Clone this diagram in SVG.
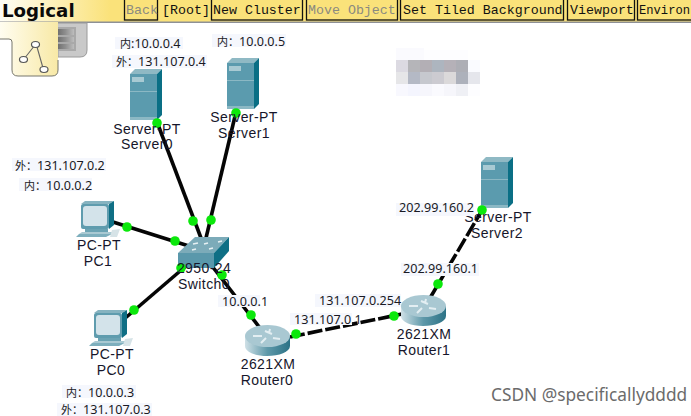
<svg xmlns="http://www.w3.org/2000/svg" xmlns:xlink="http://www.w3.org/1999/xlink" width="691" height="416" viewBox="0 0 691 416">
<style>
.btn{fill:none;stroke:#111;stroke-width:1.3}
.bt{font:13.3px "Liberation Mono",monospace;fill:#111}
.off{fill:#8a8a80}
.lk{fill:none;stroke:#050505;stroke-width:3.6}
.dash{stroke-dasharray:15 3}
.dot{fill:#0be80b}
.nl{font:14px "Liberation Sans",Arial,sans-serif;letter-spacing:.4px;fill:#16162a;text-anchor:middle}
.ip{font:12.6px "Noto Sans","Noto Sans CJK SC",sans-serif;fill:#1a1a24}
.cjk{font-size:11px}
.bg{fill:#f5f7fd}
</style>
<defs>
<linearGradient id="tb" x1="0" x2="1" y1="0" y2="0"><stop offset="0" stop-color="#fffef6"/><stop offset="1" stop-color="#fae27a"/></linearGradient>
<linearGradient id="tab" x1="0" x2="1" y1="0" y2="0"><stop offset="0" stop-color="#fffdf0"/><stop offset="1" stop-color="#f8e9a6"/></linearGradient>
<linearGradient id="stripe" x1="0" x2="1" y1="0" y2="0"><stop offset="0" stop-color="#6c6c6c"/><stop offset=".5" stop-color="#8f8f8f"/><stop offset="1" stop-color="#bdbdbd"/></linearGradient>
<linearGradient id="rt" x1="0" x2="1" y1="0" y2="0"><stop offset="0" stop-color="#cfe0e6"/><stop offset=".5" stop-color="#5e98a9"/><stop offset="1" stop-color="#2b7286"/></linearGradient>
<g id="server">
<path d="M0 5 5 0H32L27 5Z" fill="#8fb9c4"/>
<path d="M27 5 32 0V46L27 51Z" fill="#0a6f85"/>
<rect x="0" y="5" width="27" height="46" fill="#5b9bae"/>
<rect x="0" y="22" width="27" height="1" fill="#8bb8c4"/>
<rect x="0" y="48" width="27" height="3" fill="#8bb8c4"/>
<rect x="2" y="8" width="12" height="5" fill="#a8cad3"/>
</g>
<g id="pc">
<path d="M5 3 9 0H38L33 3Z" fill="#86b3c0"/>
<path d="M33 3 38 0V24L33 28Z" fill="#0f6f85"/>
<rect x="5" y="3" width="28" height="25" rx="2" fill="#5f9cae"/>
<rect x="7" y="5" width="24" height="20" rx="3" fill="#d3e3ea"/>
<rect x="9" y="28" width="23" height="3" fill="#6ba3b3"/>
<path d="M6 31H36L36 33H3Z" fill="#a9c9d2"/>
<path d="M3 33H36L30 36H0Z" fill="#7eafbd"/>
<path d="M36 29 44 28 41 36 34 36Z" fill="#d6e3e7"/>
</g>
<g id="router">
<path d="M0 11V21C0 27 10 31 22 31S45 27 45 21V11Z" fill="url(#rt)"/>
<ellipse cx="22.500" cy="11" rx="22.500" ry="11" fill="#a9c8d2"/>
<path d="M8 11H17M20 6 27 9M28 13 35 14M21 13 16 18M25 4 24 8" stroke="#e3eef2" stroke-width="2" fill="none"/>
</g>
<g id="switch">
<path d="M0 16 17 0H51L36 16Z" fill="#7cabb9"/>
<path d="M0 16H36V31H0Z" fill="#5a98ab"/>
<path d="M36 16 51 0V14L36 31Z" fill="#0f6f85"/>
<path d="M15 7 20 6M26 7 30 6M40 5 44 4M14 13 18 12M31 12 35 11" stroke="#e6f0f3" stroke-width="1.500" fill="none"/>
</g>
</defs>

<rect width="691" height="416" fill="#fff"/>

<g id="toolbar">
<rect width="691" height="22" fill="#fae27a"/>
<rect width="110" height="22" fill="url(#tb)"/>
<rect y="21.500" width="691" height="1.500" fill="#8d9096"/>
<rect class="btn" x="124.500" y="-1" width="33" height="21"/><text class="bt off" x="126" y="14">Back</text>
<text class="bt" x="162" y="14">[Root]</text>
<rect class="btn" x="211.500" y="-1" width="91" height="21"/><text class="bt" x="213" y="14">New Cluster</text>
<rect class="btn" x="306.500" y="-1" width="91" height="21"/><text class="bt off" x="308" y="14">Move Object</text>
<rect class="btn" x="400.500" y="-1" width="163" height="21"/><text class="bt" x="403" y="14">Set Tiled Background</text>
<rect class="btn" x="567.500" y="-1" width="67" height="21"/><text class="bt" x="570" y="14">Viewport</text>
<rect class="btn" x="637.500" y="-1" width="60" height="21"/><text class="bt" x="639" y="14" textLength="51" lengthAdjust="spacingAndGlyphs">Environ</text>
</g>

<g id="logical-tab">
<path d="M42 23H87V50Q87 57 80 57H58V32H42Z" fill="#c9c9c9" stroke="#9a9a9a"/>
<rect x="55" y="27" width="21" height="24" fill="#a9a9a9"/>
<rect x="57" y="29" width="17" height="6" fill="url(#stripe)"/>
<rect x="57" y="37" width="17" height="5" fill="url(#stripe)"/>
<rect x="57" y="44" width="17" height="5" fill="url(#stripe)"/>
<path d="M0 22H58V70Q58 76 52 76H18Q12 76 12 70V42Q12 39 9 39H0Z" fill="url(#tab)"/>
<path d="M0 39H9Q12 39 12 42V70Q12 76 18 76H52Q58 76 58 70V60" fill="none" stroke="#77776c"/>
<path d="M35 45 24 59M37 47 43 68" stroke="#666" stroke-width="1.100"/>
<g fill="#fff" stroke="#555" stroke-width="1.200"><ellipse cx="35.500" cy="44.500" rx="4" ry="3"/><ellipse cx="23.500" cy="59.500" rx="4" ry="3"/><ellipse cx="44" cy="69.500" rx="4" ry="3"/></g>
<text x="2" y="17" font-family="DejaVu Sans, sans-serif" font-weight="700" font-size="18.200px" fill="#0a0a0a">Logical</text>
</g>

<g id="mosaic">
<rect x="396" y="48" width="28" height="12" fill="#fafafe"/><rect x="424" y="50" width="44" height="10" fill="#fdfdff"/>
<rect x="396" y="60" width="12" height="12" fill="#dcdae2"/><rect x="408" y="60" width="12" height="12" fill="#b5b5b9"/><rect x="420" y="60" width="12" height="12" fill="#b3afb5"/><rect x="432" y="60" width="12" height="12" fill="#adb5bf"/><rect x="444" y="60" width="12" height="12" fill="#b5b1b8"/><rect x="456" y="60" width="12" height="12" fill="#adaeb5"/><rect x="468" y="60" width="12" height="12" fill="#fafbff"/>
<rect x="396" y="72" width="12" height="12" fill="#e6e6e8"/><rect x="408" y="72" width="12" height="12" fill="#b4b9c5"/><rect x="420" y="72" width="12" height="12" fill="#c6c8ce"/><rect x="432" y="72" width="12" height="12" fill="#cccbd1"/><rect x="444" y="72" width="12" height="12" fill="#dbd9da"/><rect x="456" y="72" width="12" height="12" fill="#adb1bb"/><rect x="468" y="72" width="12" height="12" fill="#e5e6ec"/>
<rect x="396" y="84" width="12" height="12" fill="#f8f8fe"/><rect x="408" y="84" width="12" height="12" fill="#f4f5fe"/><rect x="420" y="84" width="12" height="12" fill="#f6f6fc"/><rect x="432" y="84" width="12" height="12" fill="#fafafe"/><rect x="444" y="84" width="12" height="12" fill="#f6f6fb"/><rect x="456" y="84" width="12" height="12" fill="#eff0f5"/><rect x="468" y="84" width="12" height="12" fill="#fdfdff"/>
</g>

<g id="connectors">
<path class="lk" d="M157 122 201 238"/>
<path class="lk" d="M236 112 206 238"/>
<path class="lk" d="M113 222 192 247"/>
<path class="lk" d="M123 320 193 260"/>
<path class="lk" d="M205 257 260 328"/>
<path class="lk dash" d="M290 337 402 314"/>
<path class="lk dash" d="M430 298 484 207"/>
</g>

<g id="Server0"><use xlink:href="#server" href="#server" x="130" y="69"/></g>
<g id="Server1"><use xlink:href="#server" href="#server" x="227" y="58"/></g>
<g id="Server2"><use xlink:href="#server" href="#server" x="481" y="157"/></g>
<g id="PC1"><use xlink:href="#pc" href="#pc" x="76" y="201"/></g>
<g id="PC0"><use xlink:href="#pc" href="#pc" x="89" y="310"/></g>
<g id="Switch0"><use xlink:href="#switch" href="#switch" x="178" y="237"/></g>
<g id="Router0"><use xlink:href="#router" href="#router" x="245" y="325"/></g>
<g id="Router1"><use xlink:href="#router" href="#router" x="401" y="295"/></g>

<g id="ports">
<circle class="dot" cx="157" cy="123" r="4.800"/><circle class="dot" cx="236" cy="113" r="4.800"/>
<circle class="dot" cx="193" cy="221" r="4.800"/><circle class="dot" cx="211" cy="220" r="4.800"/>
<circle class="dot" cx="127" cy="227" r="4.800"/><circle class="dot" cx="175" cy="241" r="4.800"/>
<circle class="dot" cx="134" cy="310" r="4.800"/><circle class="dot" cx="181" cy="268" r="4.800"/>
<circle class="dot" cx="222" cy="275" r="4.800"/><circle class="dot" cx="251" cy="315" r="4.800"/>
<circle class="dot" cx="296" cy="334" r="4.800"/><circle class="dot" cx="394" cy="316" r="4.800"/>
<circle class="dot" cx="438" cy="284" r="4.800"/><circle class="dot" cx="482" cy="210" r="4.800"/>
</g>

<g id="node-labels">
<text class="nl" x="147" y="134">Server-PT</text><text class="nl" x="147" y="149">Server0</text>
<text class="nl" x="244" y="122">Server-PT</text><text class="nl" x="244" y="138">Server1</text>
<text class="nl" x="498" y="222">Server-PT</text><text class="nl" x="497" y="238">Server2</text>
<text class="nl" x="99" y="250">PC-PT</text><text class="nl" x="98" y="266">PC1</text>
<text class="nl" x="112" y="359">PC-PT</text><text class="nl" x="111" y="375">PC0</text>
<text class="nl" x="204" y="273">2950-24</text><text class="nl" x="204" y="289">Switch0</text>
<text class="nl" x="268" y="369">2621XM</text><text class="nl" x="267" y="385">Router0</text>
<text class="nl" x="424" y="339">2621XM</text><text class="nl" x="424" y="355">Router1</text>
</g>

<g id="ip-labels">
<rect class="bg" x="115" y="37" width="68" height="12"/><text class="ip" x="120" y="48"><tspan class="cjk">内</tspan>:10.0.0.4</text>
<rect class="bg" x="112" y="55" width="95" height="13"/><text class="ip" x="116" y="66"><tspan class="cjk">外：</tspan>131.107.0.4</text>
<rect class="bg" x="212" y="34" width="74" height="13"/><text class="ip" x="217" y="46"><tspan class="cjk">内：</tspan>10.0.0.5</text>
<rect class="bg" x="12" y="158" width="94" height="13"/><text class="ip" x="15" y="170"><tspan class="cjk">外：</tspan>131.107.0.2</text>
<rect class="bg" x="19" y="178" width="73" height="13"/><text class="ip" x="24" y="190"><tspan class="cjk">内：</tspan>10.0.0.2</text>
<rect class="bg" x="62" y="385" width="74" height="13"/><text class="ip" x="66" y="396.500"><tspan class="cjk">内：</tspan>10.0.0.3</text>
<rect class="bg" x="57" y="403" width="95" height="13"/><text class="ip" x="61" y="413.500"><tspan class="cjk">外：</tspan>131.107.0.3</text>
<rect class="bg" x="218" y="295" width="42" height="12"/><text class="ip" x="222" y="306">10.0.0.1</text>
<rect class="bg" x="290" y="313" width="62" height="12"/><text class="ip" x="294" y="324">131.107.0.1</text>
<rect class="bg" x="315" y="294" width="86" height="13"/><text class="ip" x="319" y="305">131.107.0.254</text>
<rect class="bg" x="396" y="203" width="78" height="13"/><text class="ip" x="399" y="212">202.99.160.2</text>
<rect class="bg" x="401" y="263" width="78" height="13"/><text class="ip" x="403" y="273">202.99.160.1</text>
</g>

<text id="watermark" x="491" y="401" font-family="Noto Sans, sans-serif" font-size="17.300px" fill="#6b6b6b">CSDN @specificallydddd</text>
</svg>
